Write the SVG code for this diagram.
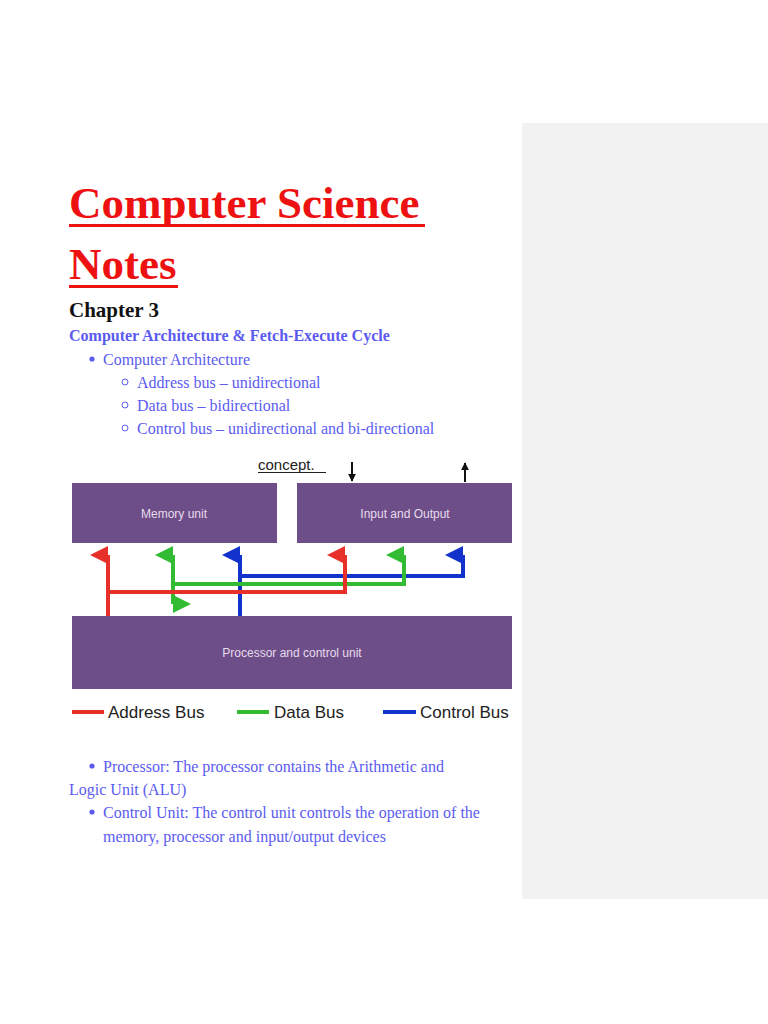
<svg xmlns="http://www.w3.org/2000/svg" width="768" height="1024" viewBox="0 0 768 1024">
<style>
.ser{font-family:"Liberation Serif",serif}
.blue{fill:#5b5bf0;font-size:16px}
.box{fill:#6e4e88}
.bt{font-family:"Liberation Sans",Arial,sans-serif;font-size:12px;fill:#e6dcee;text-anchor:middle}
.lg{font-family:"Liberation Sans",Arial,sans-serif;font-size:17px;fill:#222}
</style>
<defs>
<marker id="ar" viewBox="0 0 10 10" refX="5" refY="10" markerWidth="4.5" markerHeight="4.5" orient="auto-start-reverse" markerUnits="strokeWidth"><path d="M0,10 L5,0 L10,10 Z" fill="context-stroke"/></marker>
<marker id="ar-r" viewBox="0 0 10 10" refX="5" refY="1" markerWidth="5" markerHeight="5" orient="auto"><path d="M0,0 L10,5 L0,10 Z" fill="#e8302a"/></marker>
<marker id="bk" viewBox="0 0 10 10" refX="9" refY="5" markerWidth="4" markerHeight="4" orient="auto"><path d="M0,0 L10,5 L0,10 Z" fill="#111"/></marker>
</defs>
<rect width="768" height="1024" fill="#fff"/>
<rect x="522" y="123" width="246" height="776" fill="#f2f2f2"/>
<text class="ser" x="69" y="218" font-size="45" font-weight="bold" fill="#ee1111">Computer Science</text>
<rect x="69" y="224" width="356" height="3" fill="#ee1111"/>
<text class="ser" x="69" y="279" font-size="45" font-weight="bold" fill="#ee1111">Notes</text>
<rect x="69" y="285" width="109" height="3" fill="#ee1111"/>
<text class="ser" x="69" y="317" font-size="21" font-weight="bold" fill="#111">Chapter 3</text>
<text class="ser blue" x="69" y="341" font-weight="bold">Computer Architecture &amp; Fetch-Execute Cycle</text>
<circle cx="92" cy="359" r="2.6" fill="#5b5bf0"/>
<text class="ser blue" x="103" y="365">Computer Architecture</text>
<circle cx="125" cy="382" r="3" fill="none" stroke="#5b5bf0" stroke-width="1"/>
<text class="ser blue" x="137" y="388">Address bus – unidirectional</text>
<circle cx="125" cy="405" r="3" fill="none" stroke="#5b5bf0" stroke-width="1"/>
<text class="ser blue" x="137" y="411">Data bus – bidirectional</text>
<circle cx="125" cy="428" r="3" fill="none" stroke="#5b5bf0" stroke-width="1"/>
<text class="ser blue" x="137" y="434">Control bus – unidirectional and bi-directional</text>

<text x="258" y="470" font-family="Liberation Sans,Arial,sans-serif" font-size="15" fill="#222">concept.</text>
<rect x="258" y="472" width="68" height="1" fill="#222"/>

<g id="memory"><rect class="box" x="72" y="483" width="205" height="60"/><text class="bt" x="174" y="518">Memory unit</text></g>
<g id="io"><rect class="box" x="297" y="483" width="215" height="60"/><text class="bt" x="405" y="518">Input and Output</text></g>
<g id="processor"><rect class="box" x="72" y="616" width="440" height="73"/><text class="bt" x="292" y="657">Processor and control unit</text></g>

<g id="connectors" fill="none" stroke-width="4">
<path d="M352,462 V481" stroke="#111" stroke-width="2" marker-end="url(#bk)"/>
<path d="M465,482 V463" stroke="#111" stroke-width="2" marker-end="url(#bk)"/>
<path d="M240,576 H463 V555" stroke="#1133cc" marker-end="url(#ar)"/>
<path d="M240,616 V555" stroke="#1133cc" marker-end="url(#ar)"/>
<path d="M173,584 H404 V555" stroke="#33bb33" marker-end="url(#ar)"/>
<path d="M173,604 V555" stroke="#33bb33" marker-start="url(#ar)" marker-end="url(#ar)"/>
<path d="M108,592 H345 V555" stroke="#e8302a" marker-end="url(#ar)"/>
<path d="M108,616 V555" stroke="#e8302a" marker-end="url(#ar)"/>
</g>

<g id="legend">
<rect x="72" y="710" width="32" height="4" fill="#e8302a"/><text class="lg" x="108" y="718">Address Bus</text>
<rect x="237" y="710" width="32" height="4" fill="#33bb33"/><text class="lg" x="274" y="718">Data Bus</text>
<rect x="383" y="710" width="33" height="4" fill="#1133cc"/><text class="lg" x="420" y="718">Control Bus</text>
</g>

<circle cx="92" cy="766" r="2.6" fill="#5b5bf0"/>
<text class="ser blue" x="103" y="772">Processor: The processor contains the Arithmetic and</text>
<text class="ser blue" x="69" y="795">Logic Unit (ALU)</text>
<circle cx="92" cy="812" r="2.6" fill="#5b5bf0"/>
<text class="ser blue" x="103" y="818">Control Unit: The control unit controls the operation of the</text>
<text class="ser blue" x="103" y="842">memory, processor and input/output devices</text>
</svg>
